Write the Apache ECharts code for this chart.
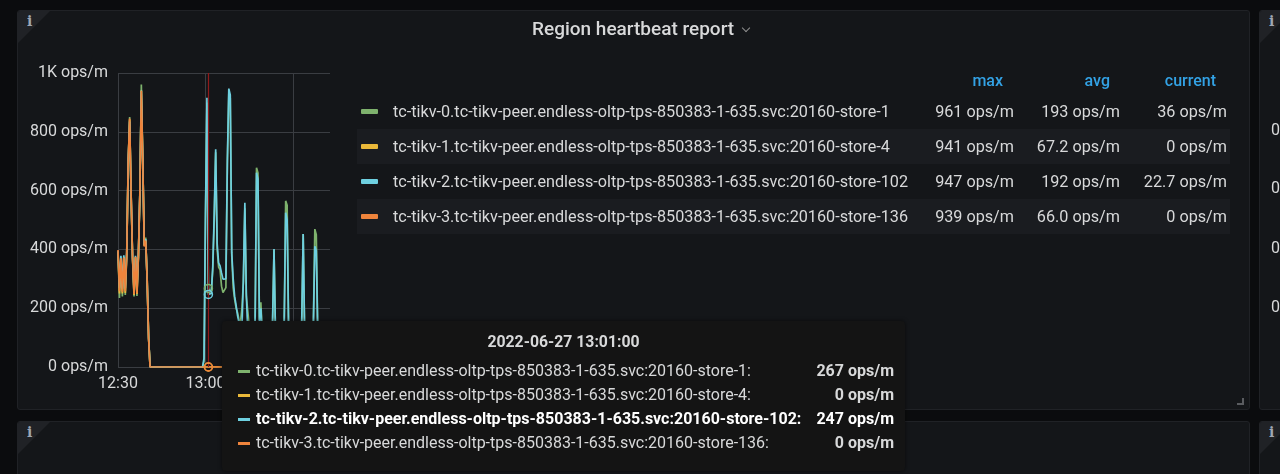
<!DOCTYPE html>
<html>
<head>
<meta charset="utf-8">
<script src="https://cdn.jsdelivr.net/npm/echarts@6/dist/echarts.min.js"></script>
<style>
  html,body{margin:0;padding:0;background:#0b0c0e;width:1280px;height:474px;overflow:hidden;font-family:Roboto,"Noto Sans",sans-serif;}
  .panel{position:absolute;background:#141619;border:1px solid #202226;border-radius:3px;box-sizing:border-box;overflow:hidden;}
  .corner{position:absolute;left:0;top:0;width:0;height:0;border-top:32px solid #202226;border-right:32px solid transparent;}
  .corner-i{position:absolute;left:9px;top:2px;color:#9fa7b3;font:bold 14px "DejaVu Serif",serif;}
  #chart{position:absolute;left:0;top:0;width:1280px;height:474px;z-index:1;}
  .title{position:absolute;left:532px;top:17px;color:#d8d9da;font-size:19px;font-weight:500;z-index:2;white-space:nowrap;}
  .chev{position:absolute;left:743px;top:25px;width:5px;height:5px;border-right:1.5px solid #8e8e8e;border-bottom:1.5px solid #8e8e8e;transform:rotate(45deg);z-index:2;}
  .lg{position:absolute;z-index:2;color:#d8d9da;font-size:16.2px;line-height:20px;white-space:nowrap;}
  .stripe{position:absolute;left:357px;width:873px;height:35px;background:#1a1c20;z-index:0;}
  .hdr{position:absolute;top:71px;color:#33a2e5;font-size:16px;line-height:20px;font-weight:500;text-align:right;z-index:2;}
  .sw{position:absolute;left:361px;width:17px;height:5px;border-radius:1px;z-index:2;}
  .tip{position:absolute;left:222px;top:321px;width:683px;height:150px;background:#141414;border-radius:4px;z-index:3;box-shadow:0 0 4px rgba(0,0,0,0.6);}
  .tip .t{position:absolute;left:0;width:683px;top:11px;text-align:center;color:#d8d9da;font-weight:bold;font-size:15.8px;}
  .tip .row{position:absolute;left:0;width:683px;height:20px;line-height:20px;color:#d8d9da;font-size:16px;}
  .tip .row .s{position:absolute;left:16px;top:9px;width:12px;height:3px;}
  .tip .row .n{position:absolute;left:34px;top:0;white-space:nowrap;}
  .tip .row .v{position:absolute;right:11px;top:0;font-weight:bold;}
  .handle{position:absolute;left:1237px;top:398px;width:5px;height:5px;border-right:2px solid #5a5c60;border-bottom:2px solid #5a5c60;z-index:2;}
  .nb{position:absolute;left:1271px;color:#d8d9da;font-size:16px;z-index:2;}
</style>
</head>
<body>
<div class="panel" style="left:17px;top:10px;width:1233px;height:400px;"><div class="corner"></div><div class="corner-i">i</div></div>
<div class="panel" style="left:1259px;top:10px;width:60px;height:400px;"><div class="corner"></div><div class="corner-i">i</div></div>
<div class="panel" style="left:17px;top:421px;width:1233px;height:80px;"><div class="corner"></div><div class="corner-i">i</div></div>
<div class="panel" style="left:1259px;top:421px;width:60px;height:80px;"><div class="corner"></div><div class="corner-i">i</div></div>
<div class="handle"></div>
<div class="title">Region heartbeat report</div>
<div class="chev"></div>
<div id="legend"></div>
<div id="chart"></div>
<div class="tip" id="tip"></div>
<script>
// ---- data ----
const START_MINUTES = 12 * 60 + 30;   // 12:30
const STEP_MINUTES = 0.5;             // 30s samples
const HOVER_INDEX = 62;               // 13:01:00
const hoverTitle = '2022-06-27 13:01:00';

const seriesNames = [
  'tc-tikv-0.tc-tikv-peer.endless-oltp-tps-850383-1-635.svc:20160-store-1',
  'tc-tikv-1.tc-tikv-peer.endless-oltp-tps-850383-1-635.svc:20160-store-4',
  'tc-tikv-2.tc-tikv-peer.endless-oltp-tps-850383-1-635.svc:20160-store-102',
  'tc-tikv-3.tc-tikv-peer.endless-oltp-tps-850383-1-635.svc:20160-store-136'
];
const seriesColors = ['#7EB26D', '#EAB839', '#6ED0E0', '#EF843C'];

const statMax = ['961 ops/m', '941 ops/m', '947 ops/m', '939 ops/m'];
const statAvg = ['193 ops/m', '67.2 ops/m', '192 ops/m', '66.0 ops/m'];
const statCurrent = ['36 ops/m', '0 ops/m', '22.7 ops/m', '0 ops/m'];

const yTicks = [0, 200, 400, 600, 800, 1000];

const tikv0 = [
  390,235,370,240,372,245,385,690,850,580,365,240,372,242,375,590,961,700,420,440,
  290,100,0,0,0,0,0,0,0,0,0,0,0,0,0,0,0,0,0,0,
  0,0,0,0,0,0,0,0,0,0,0,0,0,0,0,0,0,0,0,20,
  500,900,267,262,255,330,500,730,400,340,330,275,253,250,270,690,930,915,380,270,
  230,200,185,160,150,200,290,540,240,190,140,90,80,70,130,678,660,160,220,100,
  60,40,30,20,30,60,150,400,120,50,30,20,20,40,150,565,550,140,50,30,
  20,20,20,30,40,30,150,452,120,40,30,20,20,30,150,469,450,120,50,30,
  20,20,30,40,38,36
];
const tikv1 = [
  392,250,372,250,375,252,386,695,842,585,368,245,374,248,376,588,941,698,412,432,
  300,97,0,0,0,0,0,0,0,0,0,0,0,0,0,0,0,0,0,0,
  0,0,0,0,0,0,0,0,0,0,0,0,0,0,0,0,0,0,0,0,
  0,0,0,0,0,0,0,0,0,0,0,0,0,0,0,0,0,0,0,0,
  0,0,0,0,0,0,0,0,0,0,0,0,0,0,0,0,0,0,0,0,
  0,0,0,0,0,0,0,0,0,0,0,0,0,0,0,0,0,0,0,0,
  0,0,0,0,0,0,0,0,0,0,0,0,0,0,0,0,0,0,0,0,
  0,0,0,0,0,0
];
const tikv2 = [
  395,270,378,265,380,268,390,700,835,585,372,262,378,265,380,595,940,700,415,435,
  295,98,0,0,0,0,0,0,0,0,0,0,0,0,0,0,0,0,0,0,
  0,0,0,0,0,0,0,0,0,0,0,0,0,0,0,0,0,0,0,30,
  520,916,247,241,250,343,520,741,420,354,344,320,299,295,300,700,947,925,389,300,
  240,210,175,150,140,130,300,559,250,120,100,80,70,60,120,661,640,150,200,100,
  60,40,30,20,30,60,150,401,120,50,30,20,20,40,150,525,500,130,50,30,
  20,20,20,30,40,30,150,452,110,40,30,20,20,30,140,411,395,110,50,30,
  20,20,30,30,25,22.7
];
const tikv3 = [
  398,258,370,255,372,258,388,700,845,588,370,248,375,250,378,590,939,700,410,430,
  296,96,0,0,0,0,0,0,0,0,0,0,0,0,0,0,0,0,0,0,
  0,0,0,0,0,0,0,0,0,0,0,0,0,0,0,0,0,0,0,0,
  0,0,0,0,0,0,0,0,0,0,0,0,0,0,0,0,0,0,0,0,
  0,0,0,0,0,0,0,0,0,0,0,0,0,0,0,0,0,0,0,0,
  0,0,0,0,0,0,0,0,0,0,0,0,0,0,0,0,0,0,0,0,
  0,0,0,0,0,0,0,0,0,0,0,0,0,0,0,0,0,0,0,0,
  0,0,0,0,0,0
];
const seriesValues = [tikv0, tikv1, tikv2, tikv3];

// ---- helpers ----
const pad = n => (n < 10 ? '0' : '') + n;
const fmtTime = m => { const t = Math.round(START_MINUTES + m); return Math.floor(t / 60) + ':' + pad(t % 60); };
const fmtVal = v => (v >= 1000 ? (v / 1000) + 'K' : v) + ' ops/m';
const hoverX = HOVER_INDEX * STEP_MINUTES;

// ---- legend (HTML table like Grafana) ----
const lg = document.getElementById('legend');
let html = '';
html += '<div class="hdr" style="left:950px;width:53px;">max</div>';
html += '<div class="hdr" style="left:1050px;width:60px;">avg</div>';
html += '<div class="hdr" style="left:1130px;width:86px;">current</div>';
const rowY = [111, 146, 181, 216];
seriesNames.forEach((n, i) => {
  const y = rowY[i];
  if (i % 2 === 1) html += `<div class="stripe" style="top:${y - 17}px"></div>`;
  html += `<div class="sw" style="top:${y - 2}px;background:${seriesColors[i]}"></div>`;
  html += `<div class="lg" style="left:393px;top:${y - 9}px">${n}</div>`;
  html += `<div class="lg" style="left:914px;width:100px;text-align:right;top:${y - 9}px">${statMax[i]}</div>`;
  html += `<div class="lg" style="left:1020px;width:100px;text-align:right;top:${y - 9}px">${statAvg[i]}</div>`;
  html += `<div class="lg" style="left:1117px;width:110px;text-align:right;top:${y - 9}px">${statCurrent[i]}</div>`;
});
[130, 188, 248, 307].forEach(y => { html += `<div class="nb" style="top:${y - 10}px">0</div>`; });
lg.innerHTML = html;

// ---- hover tooltip ----
const tip = document.getElementById('tip');
let th = `<div class="t">${hoverTitle}</div>`;
const tipY = [371, 395, 419, 443];
seriesNames.forEach((n, i) => {
  const bold = i === 2 ? 'font-weight:bold;color:#ffffff;' : '';
  th += `<div class="row" style="top:${tipY[i] - 321 - 10}px;${bold}"><div class="s" style="background:${seriesColors[i]}"></div><div class="n">${n}:</div><div class="v">${fmtVal(seriesValues[i][HOVER_INDEX])}</div></div>`;
});
tip.innerHTML = th;

// ---- chart ----
const chart = echarts.init(document.getElementById('chart'), null, { renderer: 'canvas' });
const gridColor = '#3a3d42';
const series = seriesValues.map((vals, si) => {
  const s = {
    name: seriesNames[si],
    type: 'line',
    data: vals.map((v, i) => [i * STEP_MINUTES, v]),
    showSymbol: false,
    symbol: 'none',
    animation: false,
    silent: true,
    lineStyle: { width: 1.7, color: seriesColors[si] },
    itemStyle: { color: seriesColors[si] },
    markPoint: {
      silent: true,
      animation: false,
      symbol: 'circle',
      symbolSize: 8,
      label: { show: false },
      itemStyle: { color: 'rgba(0,0,0,0)', borderColor: seriesColors[si], borderWidth: 1.5 },
      data: [{ coord: [hoverX, vals[HOVER_INDEX]] }]
    }
  };
  if (si === 3) {
    s.markLine = {
      silent: true,
      animation: false,
      symbol: 'none',
      label: { show: false },
      lineStyle: { color: '#8f1a1a', width: 1.2, type: 'solid' },
      data: [{ xAxis: hoverX }]
    };
  }
  return s;
});

chart.setOption({
  backgroundColor: 'transparent',
  animation: false,
  grid: { left: 118, top: 73, width: 212, height: 294, containLabel: false },
  xAxis: {
    type: 'value',
    min: 0,
    max: 72.7,
    interval: 30,
    axisLine: { show: false },
    axisTick: { show: false },
    axisLabel: { color: '#d8d9da', fontSize: 16, fontFamily: 'Roboto', margin: 9, showMaxLabel: false, formatter: fmtTime },
    splitLine: { show: true, showMaxLine: false, lineStyle: { color: gridColor, width: 1 } }
  },
  yAxis: {
    type: 'value',
    min: yTicks[0],
    max: yTicks[yTicks.length - 1],
    interval: yTicks[1] - yTicks[0],
    axisLine: { show: false },
    axisTick: { show: false },
    axisLabel: { color: '#d8d9da', fontSize: 16, fontFamily: 'Roboto', margin: 10, formatter: fmtVal },
    splitLine: { show: true, lineStyle: { color: gridColor, width: 1 } }
  },
  series: series
});
</script>
</body>
</html>
